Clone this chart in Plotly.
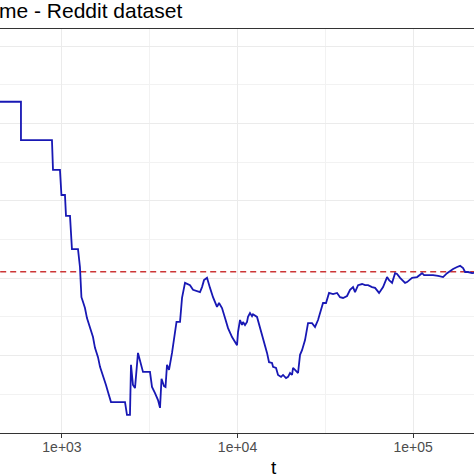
import plotly.graph_objects as go

# values (y axis labels are cropped away, so units are arbitrary)
t = [390, 584, 584, 877, 889, 974, 993, 1040, 1054, 1111, 1140, 1234,
     1266, 1291, 1317, 1352, 1388, 1444, 1502, 1542, 1604, 1647, 1712, 1781,
     1829, 1902, 2286, 2346, 2440, 2473, 2538, 2606, 2710, 2782, 2894, 3172,
     3257, 3388, 3524, 3618, 3690, 3813, 3888, 3965, 4071, 4235, 4347, 4492,
     4704, 4829, 5022, 5362, 5578, 6113, 6276, 6443, 6702, 6790, 6970, 7250,
     7641, 7845, 8160, 8488, 8829, 9305, 9678, 9936, 10065, 10332, 10607, 10747,
     11033, 11326, 11476, 11780, 12093, 12253, 12913, 13432, 13972, 14725, 15117, 15725,
     15933, 16573, 17014, 17698, 18168, 18898, 19400, 19914, 20443, 20713, 21264, 22117,
     22703, 23306, 24240, 25212, 26570, 27635, 28745, 29898, 30691, 31925, 32771, 33205,
     35003, 36898, 38371, 39906, 42060, 43752, 45500, 46710, 48600, 51220, 53280, 55410,
     58400, 60740, 64010, 67470, 71110, 72990, 75920, 78960, 81060, 84320, 90040, 92430,
     98700, 105400, 112500, 115500, 121800, 130000, 138900, 148200, 156200, 162500, 169000, 178100,
     185300, 192700, 197800, 205800, 216900, 241000]
value = [8.56, 8.56, 7.57, 7.57, 6.80, 6.80, 6.15, 6.15, 5.61, 5.61, 4.75, 4.75,
         4.29, 3.51, 3.39, 3.23, 2.97, 2.74, 2.48, 2.20, 1.96, 1.71, 1.50, 1.24,
         1.06, 0.80, 0.80, 0.47, 0.47, 1.76, 1.24, 1.16, 2.07, 1.86, 1.58, 1.58,
         1.19, 1.03, 0.85, 0.65, 1.40, 1.21, 1.19, 1.76, 1.63, 2.07, 2.45, 2.87,
         2.87, 3.49, 3.88, 3.82, 3.70, 3.64, 3.77, 3.95, 4.01, 3.90, 3.75, 3.51,
         3.26, 3.36, 3.23, 2.97, 2.71, 2.48, 2.33, 2.27, 2.61, 2.92, 2.79, 2.87,
         2.79, 2.87, 3.00, 3.10, 3.02, 3.07, 3.00, 2.74, 2.45, 2.07, 1.83, 1.81,
         1.71, 1.68, 1.50, 1.45, 1.50, 1.42, 1.45, 1.55, 1.50, 1.68, 1.63, 1.55,
         2.02, 2.14, 2.40, 2.84, 2.84, 2.74, 2.92, 3.18, 3.36, 3.36, 3.57, 3.62,
         3.59, 3.62, 3.51, 3.49, 3.54, 3.70, 3.77, 3.64, 3.82, 3.85, 3.82, 3.82,
         3.77, 3.75, 3.62, 3.77, 4.03, 3.95, 3.88, 4.13, 4.11, 4.01, 3.88, 3.90,
         4.01, 4.03, 4.13, 4.08, 4.08, 4.08, 4.06, 4.03, 4.13, 4.19, 4.24, 4.29,
         4.32, 4.26, 4.16, 4.16, 4.13, 4.16]
reference_level = 4.17

x_ticks = [1e3, 1e4, 1e5]
x_tick_labels = ['1e+03', '1e+04', '1e+05']
x_minor = [10 ** 2.5, 10 ** 3.5, 10 ** 4.5, 10 ** 5.5]

fig = go.Figure()
fig.add_trace(go.Scatter(x=[t[0], t[-1]], y=[reference_level, reference_level], mode='lines',
                         line=dict(color='#CC3636', width=1.5, dash='6px,4px'),
                         hoverinfo='skip', showlegend=False))
fig.add_trace(go.Scatter(x=t, y=value, mode='lines',
                         line=dict(color='#1818B4', width=1.8),
                         showlegend=False))

fig.update_layout(
    width=474, height=474,
    margin=dict(l=0, r=0, t=29, b=41, pad=0),
    paper_bgcolor='white', plot_bgcolor='white',
    font=dict(family='Liberation Sans, Arial, sans-serif'),
    xaxis=dict(type='log', range=[2.647, 5.347],
               tickmode='array', tickvals=x_ticks, ticktext=x_tick_labels,
               tickfont=dict(size=14, color='#4D4D4D'),
               ticks='outside', ticklen=4, tickwidth=1, tickcolor='#333333',
               ticklabelstandoff=-3,
               showline=True, mirror=True, linecolor='#333333', linewidth=1,
               showgrid=True, gridcolor='#EBEBEB', gridwidth=1.3, zeroline=False,
               minor=dict(tickmode='array', tickvals=x_minor, ticks='',
                          showgrid=True, gridcolor='#F2F2F2', gridwidth=0.7)),
    yaxis=dict(range=[0, 10.44], dtick=2, tick0=0, showticklabels=False,
               ticks='', showline=False, zeroline=False,
               showgrid=True, gridcolor='#EBEBEB', gridwidth=1.3,
               minor=dict(dtick=1, tick0=0, ticks='', showgrid=True,
                          gridcolor='#F2F2F2', gridwidth=0.7)),
    annotations=[
        dict(text='me - Reddit dataset', xref='paper', yref='paper', x=0, y=1.045,
             xanchor='left', yanchor='middle', xshift=-3, showarrow=False,
             font=dict(size=21, color='black')),
        dict(text='t', xref='paper', yref='paper', x=274 / 474, y=-0.054,
             xanchor='center', yanchor='top', showarrow=False,
             font=dict(size=19, color='black')),
    ],
)

# the page body has a default 8px margin; drop it so the figure sits at the corner
fig.write_html('out.html', config={'displayModeBar': False},
               post_script="document.body.style.margin = '0';")
